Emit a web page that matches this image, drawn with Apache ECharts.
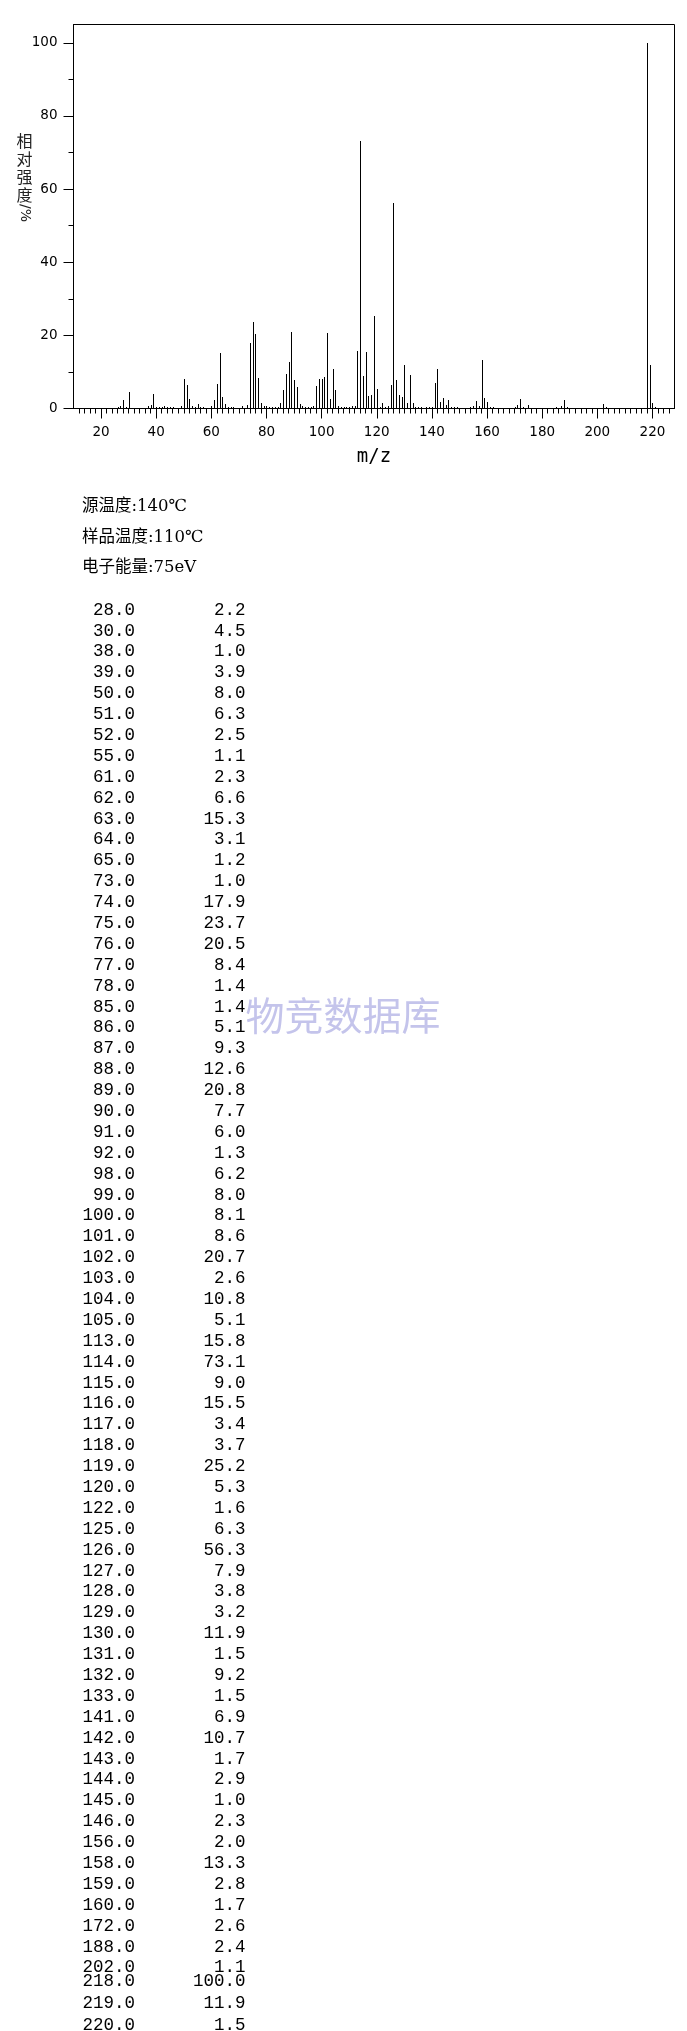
<!DOCTYPE html>
<html>
<head>
<meta charset="utf-8">
<script src="https://cdn.jsdelivr.net/npm/echarts@6/dist/echarts.min.js"></script>
<style>
html,body{margin:0;padding:0;background:#fff;}
#c{width:687px;height:2031px;}
</style>
</head>
<body>
<div id="c"></div>
<script>
// Listed peaks (m/z, relative intensity %)
const peakMz = [28,30,38,39,50,51,52,55,61,62,63,64,65,73,74,75,76,77,78,85,86,87,88,89,90,91,92,98,99,100,101,102,103,104,105,113,114,115,116,117,118,119,120,122,125,126,127,128,129,130,131,132,133,141,142,143,144,145,146,156,158,159,160,172,188,202,218,219,220];
const peakInt = [2.2,4.5,1.0,3.9,8.0,6.3,2.5,1.1,2.3,6.6,15.3,3.1,1.2,1.0,17.9,23.7,20.5,8.4,1.4,1.4,5.1,9.3,12.6,20.8,7.7,6.0,1.3,6.2,8.0,8.1,8.6,20.7,2.6,10.8,5.1,15.8,73.1,9.0,15.5,3.4,3.7,25.2,5.3,1.6,6.3,56.3,7.9,3.8,3.2,11.9,1.5,9.2,1.5,6.9,10.7,1.7,2.9,1.0,2.3,2.0,13.3,2.8,1.7,2.6,2.4,1.1,100.0,11.9,1.5];
// Small unlisted peaks (estimated)
const minorMz = [26,27,29,37,40,41,42,43,44,45,46,49,53,54,56,57,60,66,67,68,69,71,79,80,81,82,83,84,93,94,95,96,97,106,107,108,109,110,111,112,121,123,124,134,135,136,138,139,140,147,148,149,154,155,157,161,162,170,171,173,175,185,187,189,203,221];
const minorInt = [0.3,0.6,0.3,0.7,0.3,0.4,0.3,0.6,0.3,0.3,0.3,0.6,0.8,0.3,0.4,0.4,0.6,0.3,0.3,0.3,0.2,0.6,0.6,0.6,0.3,0.3,0.3,0.3,0.6,0.3,0.3,0.3,0.6,0.8,0.3,0.3,0.3,0.3,0.6,0.6,0.5,0.3,0.6,0.4,0.4,0.3,0.3,0.4,0.4,0.4,0.3,0.5,0.3,0.6,0.8,0.4,0.3,0.3,0.9,0.4,0.9,0.3,0.6,0.3,0.4,0.3];
const xMajorTicks = [20,40,60,80,100,120,140,160,180,200,220];
const yMajorTicks = [0,20,40,60,80,100];
const yMinorTicks = [10,30,50,70,90];
const infoLines = ['源温度:140℃','样品温度:110℃','电子能量:75eV'];

const xMinorTicks = [];
for (let v = 12; v <= 226; v += 2) xMinorTicks.push(v);

const barData = [];
peakMz.forEach((m,i)=>barData.push([m, peakInt[i]]));
minorMz.forEach((m,i)=>barData.push([m, minorInt[i]]));

const chart = echarts.init(document.getElementById('c'), null, {renderer:'canvas'});

const G = {left:73.5, top:24.5, width:601, height:384};
const tickFont = 'DejaVu Sans';

const graphics = [];
// y-axis title (vertical)
const yTitleChars = ['相','对','强','度'];
yTitleChars.forEach((ch,i)=>{
  graphics.push({type:'text', x:24.5, y:140.5 + i*18, style:{text:ch, fontSize:16, fontFamily:'Noto Sans CJK SC', fill:'#222', align:'center', verticalAlign:'middle'}});
});
graphics.push({type:'text', x:24.5, y:213, rotation:-Math.PI/2, style:{text:'/%', fontSize:14, fontFamily:'DejaVu Sans', fill:'#222', align:'center', verticalAlign:'middle'}});
// info lines
infoLines.forEach((t,i)=>{
  graphics.push({type:'text', x:82, y:507 + i*30.5, style:{text:t, fontSize:16.5, fontFamily:'DejaVu Serif, Noto Sans CJK SC', fill:'#000', align:'left', verticalAlign:'middle'}});
});
// peak table
peakMz.forEach((m,i)=>{
  const y = i <= 65 ? 610 + i*20.89 : 1981 + (i-66)*22;
  graphics.push({type:'text', x:135, y:y, style:{text:m.toFixed(1), fontSize:17.5, fontFamily:'Liberation Mono', fill:'#000', align:'right', verticalAlign:'middle'}});
  graphics.push({type:'text', x:245.5, y:y, style:{text:peakInt[i].toFixed(1), fontSize:17.5, fontFamily:'Liberation Mono', fill:'#000', align:'right', verticalAlign:'middle'}});
});
// watermark
graphics.push({type:'text', x:343, y:1015, z:100, style:{text:'物竞数据库', fontSize:39, fontFamily:'Noto Sans CJK SC', fill:'rgba(165,165,225,0.65)', align:'center', verticalAlign:'middle'}});

const option = {
  animation:false,
  backgroundColor:'#fff',
  grid:{left:G.left, top:G.top, width:G.width, height:G.height, show:true, borderColor:'#000', borderWidth:1, backgroundColor:'transparent'},
  xAxis:[
    {type:'value', min:10, max:228, position:'bottom',
     name:'m/z', nameLocation:'middle', nameGap:39, nameTextStyle:{fontSize:19, fontFamily:'DejaVu Sans Mono', color:'#000'},
     axisLine:{show:true, lineStyle:{color:'#000', width:1}},
     axisTick:{show:true, inside:false, length:10, customValues:xMajorTicks, lineStyle:{color:'#000', width:1}},
     axisLabel:{show:true, customValues:xMajorTicks, margin:17, fontSize:13.5, fontFamily:tickFont, color:'#000'},
     splitLine:{show:false}},
    {type:'value', min:10, max:228, position:'bottom', offset:0,
     axisLine:{show:false},
     axisTick:{show:true, inside:false, length:5, customValues:xMinorTicks, lineStyle:{color:'#000', width:1}},
     axisLabel:{show:false},
     splitLine:{show:false}}
  ],
  yAxis:[
    {type:'value', min:0, max:105, position:'left',
     axisLine:{show:true, lineStyle:{color:'#000', width:1}},
     axisTick:{show:true, inside:false, length:10, customValues:yMajorTicks, lineStyle:{color:'#000', width:1}},
     axisLabel:{show:true, customValues:yMajorTicks, margin:16, fontSize:13.5, fontFamily:tickFont, color:'#000'},
     splitLine:{show:false}},
    {type:'value', min:0, max:105, position:'left', offset:0,
     axisLine:{show:false},
     axisTick:{show:true, inside:false, length:5, customValues:yMinorTicks, lineStyle:{color:'#000', width:1}},
     axisLabel:{show:false},
     splitLine:{show:false}}
  ],
  series:[{
    type:'custom', xAxisIndex:0, yAxisIndex:0, data:barData, silent:true,
    renderItem:function(params, api){
      const top = api.coord([api.value(0), api.value(1)]);
      const base = api.coord([api.value(0), 0]);
      const x = Math.round(top[0]) + 0.5;
      return {type:'line', shape:{x1:x, y1:base[1], x2:x, y2:Math.round(top[1])}, style:{stroke:'#000', lineWidth:1}};
    }
  }],
  graphic:graphics
};
chart.setOption(option);
</script>
</body>
</html>
